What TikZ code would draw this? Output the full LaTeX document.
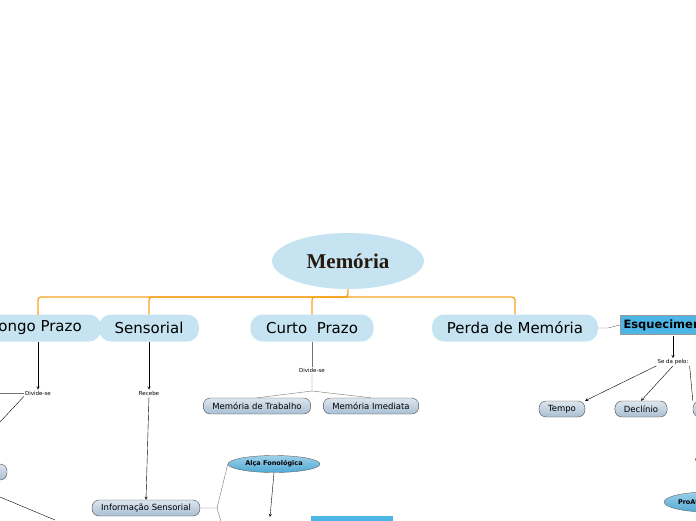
\documentclass[tikz,border=0pt]{standalone}
\usepackage{fontspec}
\setsansfont{DejaVu Sans}
\newfontfamily\titlefont{Liberation Serif}
\usetikzlibrary{shapes.geometric}
\definecolor{topic}{HTML}{C5E3F0}
\definecolor{sub}{HTML}{A9BFD3}
\definecolor{esq}{HTML}{4DB6E6}
\definecolor{oval}{HTML}{4FA9D6}
\definecolor{orng}{HTML}{F7A21B}
\begin{document}
\begin{tikzpicture}[x=1pt,y=-1pt,
        mainbox/.style={draw=none,fill=topic,rounded corners=12pt,
          minimum height=27pt,inner xsep=12pt,font=\sffamily\fontsize{15}{15}\selectfont},
        subbox/.style={draw=black!70,top color=sub!40,bottom color=sub,rounded corners=7pt,
          minimum height=16pt,inner xsep=9pt,font=\sffamily\fontsize{8.5}{8.5}\selectfont},
        ovalbox/.style={ellipse,draw=black!60,top color=oval!55,bottom color=oval,
          font=\sffamily\bfseries\fontsize{6.5}{6.5}\selectfont,inner sep=1pt},
        linkword/.style={font=\sffamily\fontsize{5.5}{5.5}\selectfont,inner sep=1pt},
        joinline/.style={draw=black!55},
        arrowline/.style={draw,->,>=stealth}
        ]
        \useasboundingbox (0,0) rectangle (696,520);
        \clip (0,0) rectangle (696,520);
        % central topic
        \node[ellipse,fill=topic,minimum width=152pt,minimum height=56pt,
          font=\titlefont\bfseries\fontsize{21}{21}\selectfont,text=black!80!brown] (mem) at (348,261) {Memória};
        \node[mainbox,minimum width=130pt] (longo) at (36,328) {Longo Prazo};
        \node[mainbox,minimum width=100pt] (sens) at (149,328) {Sensorial};
        \node[mainbox,minimum width=123pt] (curto) at (312,328) {Curto\ \ Prazo};
        \node[mainbox,minimum width=166pt] (perda) at (515,328) {Perda de Memória};
        \draw[orng,line width=1.3pt,rounded corners=3pt]
          (mem.south) -- (348,297) -| (38,315);
        \foreach \Topo in {sens,curto,perda}
          \draw[orng,line width=1.3pt,rounded corners=3pt] (348,297) -| (\Topo.north);
        % longo prazo
        \node[linkword] (divl) at (38,393) {Divide-se};
        \draw[arrowline] (38,342) -- (divl.north);
        \draw[joinline] (divl.west) -- (-5,393);
        \draw (divl.south west) -- (0,422);
        \node[subbox,minimum width=40pt] (lp1) at (-13,472) {};
        \coordinate (lpend) at (55,520);
        \draw (0,497) -- (lpend);
        % sensorial
        \node[linkword] (rec) at (149,393) {Recebe};
        \draw[arrowline] (sens.south) -- (rec.north);
        \node[subbox] (info) at (146,508) {Informação Sensorial};
        \draw[arrowline] (rec.south) -- (info.north);
        \node[ovalbox,minimum width=92pt,minimum height=17pt] (alca) at (274,464) {Alça Fonológica};
        \coordinate (ij) at (217,508);
        \draw[joinline] (info.east) -- (ij) -- (alca.west);
        \draw[joinline] (ij) -- (222,525);
        \coordinate (alcaend) at (270,517);
        \draw[arrowline] (alca.south) -- (alcaend);
        \fill[esq] (311,516) rectangle (393,525);
        % curto prazo
        \node[linkword] (divc) at (312,370) {Divide-se};
        \draw[joinline] (curto.south) -- (divc.north);
        \node[subbox] (trab) at (257,406) {Memória de Trabalho};
        \node[subbox] (imed) at (371,406) {Memória Imediata};
        \draw[joinline] (divc.south) -- (312,391) -- (trab.north);
        \draw[joinline] (312,391) -- (imed.north);
        % perda de memoria
        \node[fill=esq,draw=black!40,anchor=west,minimum height=19pt,
          font=\sffamily\bfseries\fontsize{11.5}{11.5}\selectfont,text width=110pt] (esqu) at (620,325) {Esquecimento};
        \draw[joinline] (perda.east) -- (608,328) -- (esqu.west);
        \node[linkword] (seda) at (673,362) {Se da pelo:};
        \draw[arrowline] (673,336) -- (seda.north);
        \node[subbox] (tempo) at (562,409) {Tempo};
        \node[subbox] (decl) at (641,409) {Declínio};
        \node[subbox,minimum width=50pt] (inter) at (718,409) {};
        \draw[arrowline] (seda.south west) -- (tempo.north east);
        \draw[arrowline] (seda.south) -- (decl.north);
        \draw (seda.south east) -- (inter.north west);
        \node[linkword,anchor=west] (cword) at (694,460) {c};
        \node[ovalbox,minimum width=74pt,minimum height=20pt,text width=60pt] (pro) at (708,502) {ProAtiva};
\end{tikzpicture}
\end{document}
